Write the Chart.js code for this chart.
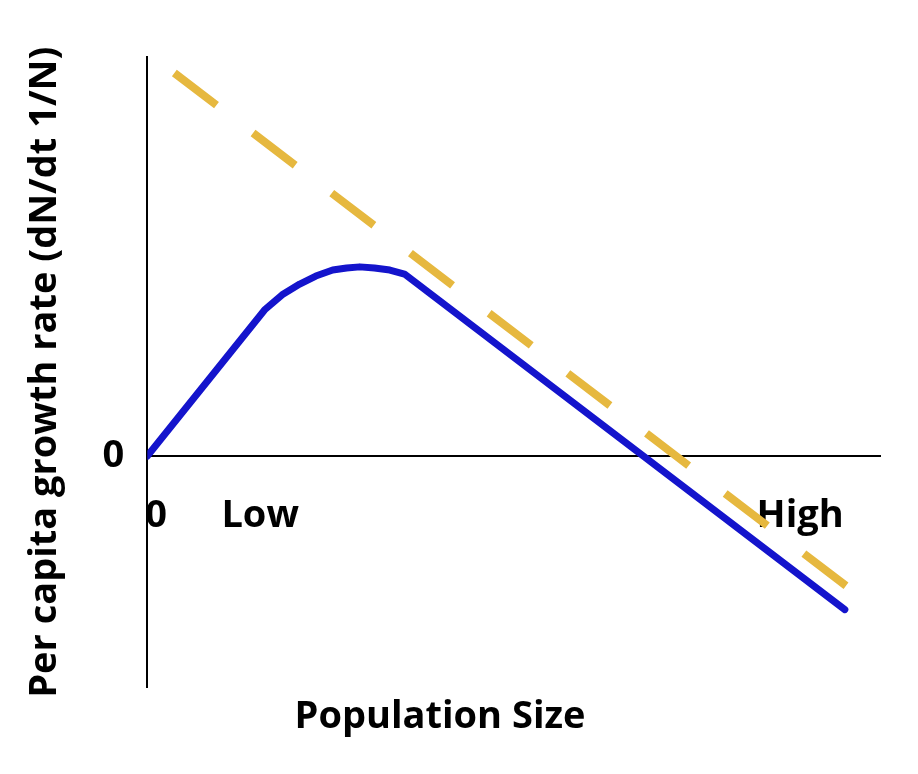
<!DOCTYPE html>
<html>
<head>
<meta charset="utf-8">
<title>Per capita growth rate vs population size</title>
<script src="https://cdn.jsdelivr.net/npm/chart.js@4.4.0/dist/chart.umd.min.js"></script>
<style>
    html, body { margin: 0; padding: 0; background: #ffffff; }
    #wrap { width: 918px; height: 774px; position: relative; }
</style>
</head>
<body>
<div id="wrap"><canvas id="growthChart"></canvas></div>
<script>
// population size (arbitrary units, 0..10) and per capita growth rate
const observedX = [0, 1.60, 1.84, 2.08, 2.30, 2.53, 2.72, 2.90, 3.10, 3.31, 3.51, 9.52];
const observedY = [0, 0.366, 0.404, 0.431, 0.451, 0.466, 0.471, 0.474, 0.471, 0.466, 0.456, -0.385];

const logisticX = [0.369, 9.549];
const logisticY = [0.960, -0.327];

const xTickValues = [0.12, 1.54, 8.91];
const xTickLabels = ['0', 'Low', 'High'];
const yTickValues = [0];
const yTickLabels = ['0'];

const toPoints = (xs, ys) => xs.map((x, i) => ({ x: x, y: ys[i] }));

const font = { family: "'Open Sans', sans-serif", weight: 'bold', size: 38 };

function buildChart(canvas) {
    if (!canvas) return;
    new Chart(canvas, {
        type: 'line',
        data: {
            datasets: [{
                label: 'Logistic',
                data: toPoints(logisticX, logisticY),
                borderColor: '#E6B83F',
                borderWidth: 8,
                borderDash: [53, 46],
                borderCapStyle: 'butt',
                pointRadius: 0,
                tension: 0
            }, {
                label: 'Allee',
                data: toPoints(observedX, observedY),
                borderColor: '#1414CC',
                borderWidth: 7,
                borderJoinStyle: 'round',
                borderCapStyle: 'round',
                pointRadius: 0,
                tension: 0
            }]
        },
        options: {
            responsive: true,
            maintainAspectRatio: false,
            animation: false,
            layout: { padding: { top: 57, right: 38, bottom: 0, left: 0 } },
            plugins: {
                legend: { display: false },
                tooltip: { enabled: false },
                title: {
                    display: true,
                    position: 'bottom',
                    text: 'Population Size',
                    color: '#000000',
                    font: font,
                    padding: { top: 7, bottom: 34 }
                }
            },
            scales: {
                x: {
                    type: 'linear',
                    min: 0,
                    max: 10,
                    position: { y: 0 },
                    afterFit: scale => { scale.height = 0; },
                    afterBuildTicks: scale => { scale.ticks = xTickValues.map(v => ({ value: v })); },
                    ticks: {
                        autoSkip: false,
                        maxRotation: 0,
                        padding: 37,
                        color: '#000000',
                        font: font,
                        callback: (value, index) => xTickLabels[index]
                    },
                    grid: { display: false, drawTicks: false },
                    border: { display: true, color: '#000000', width: 2 }
                },
                y: {
                    type: 'linear',
                    min: -0.58,
                    max: 1.0,
                    afterBuildTicks: scale => { scale.ticks = yTickValues.map(v => ({ value: v })); },
                    ticks: {
                        padding: 23,
                        color: '#000000',
                        font: font,
                        callback: (value, index) => yTickLabels[index]
                    },
                    grid: { display: false, drawTicks: false },
                    border: { display: true, color: '#000000', width: 2 },
                    title: {
                        display: true,
                        text: 'Per capita growth rate (dN/dt 1/N)',
                        color: '#000000',
                        font: font,
                        padding: { top: 22, bottom: 12 }
                    }
                }
            }
        }
    });
}

document.addEventListener('DOMContentLoaded', () => {
    buildChart(document.getElementById('growthChart'));
});
</script>
</body>
</html>
